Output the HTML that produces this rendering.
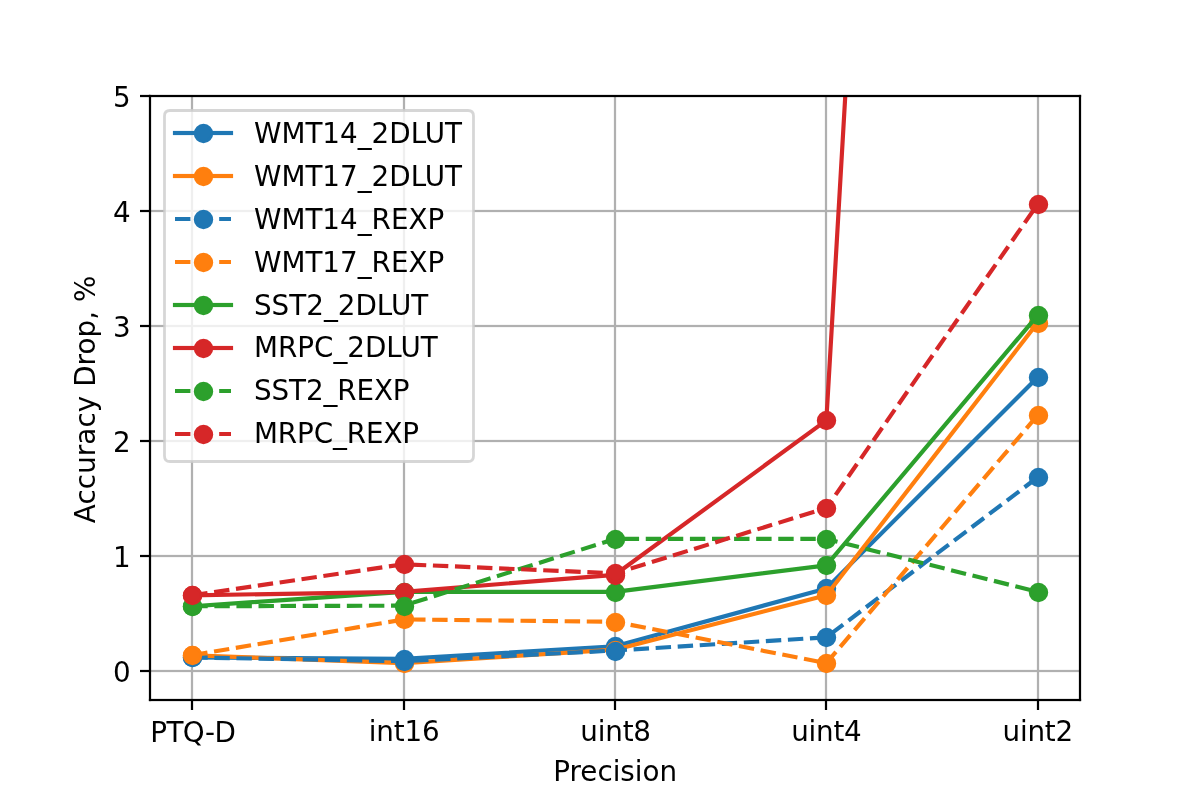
<!DOCTYPE html>
<html lang="en">
<head>
<meta charset="utf-8">
<title>Accuracy Drop vs Precision</title>
<style>
html,body{margin:0;padding:0;background:#ffffff;}
body{width:1200px;height:800px;overflow:hidden;}
svg{display:block;}
text{font-family:"DejaVu Sans", "Liberation Sans", sans-serif;font-size:27.78px;fill:#000000;}
</style>
</head>
<body>
<svg width="1200" height="800" viewBox="0 0 1200 800">
<defs><clipPath id="ax"><rect x="150" y="96" width="930" height="604"/></clipPath></defs>
<rect x="0" y="0" width="1200" height="800" fill="#ffffff"/>
<g fill="#b0b0b0">
<rect x="190.889" y="96" width="2.222" height="604"/>
<rect x="402.889" y="96" width="2.222" height="604"/>
<rect x="613.889" y="96" width="2.222" height="604"/>
<rect x="824.889" y="96" width="2.222" height="604"/>
<rect x="1036.889" y="96" width="2.222" height="604"/>
<rect x="150" y="669.889" width="930" height="2.222"/>
<rect x="150" y="554.889" width="930" height="2.222"/>
<rect x="150" y="439.889" width="930" height="2.222"/>
<rect x="150" y="324.889" width="930" height="2.222"/>
<rect x="150" y="209.889" width="930" height="2.222"/>
</g>
<g clip-path="url(#ax)" fill="none" stroke-width="4.167" stroke-linejoin="round">
<polyline points="192.27,657.43 403.64,658.90 615.00,646.27 826.36,588.40 1037.73,377.30" stroke="#1f77b4" stroke-linecap="square"/>
<g fill="#1f77b4" stroke="#1f77b4" stroke-width="2.778"><circle cx="192.5" cy="657.5" r="8.333"/><circle cx="404.5" cy="659.5" r="8.333"/><circle cx="615.5" cy="646.5" r="8.333"/><circle cx="826.5" cy="588.5" r="8.333"/><circle cx="1038.5" cy="377.5" r="8.333"/></g>
<polyline points="192.27,655.25 403.64,663.20 615.00,649.70 826.36,595.31 1037.73,322.64" stroke="#ff7f0e" stroke-linecap="square"/>
<g fill="#ff7f0e" stroke="#ff7f0e" stroke-width="2.778"><circle cx="192.5" cy="655.5" r="8.333"/><circle cx="404.5" cy="663.5" r="8.333"/><circle cx="615.5" cy="650.5" r="8.333"/><circle cx="826.5" cy="595.5" r="8.333"/><circle cx="1038.5" cy="323.5" r="8.333"/></g>
<polyline points="192.27,657.43 403.64,661.20 615.00,650.53 826.36,637.30 1037.73,477.30" stroke="#1f77b4" stroke-dasharray="15.417 6.667" stroke-linecap="butt"/>
<g fill="#1f77b4" stroke="#1f77b4" stroke-width="2.778"><circle cx="192.5" cy="657.5" r="8.333"/><circle cx="404.5" cy="661.5" r="8.333"/><circle cx="615.5" cy="651.5" r="8.333"/><circle cx="826.5" cy="637.5" r="8.333"/><circle cx="1038.5" cy="477.5" r="8.333"/></g>
<polyline points="192.27,655.25 403.64,619.47 615.00,621.77 826.36,663.18 1037.73,415.20" stroke="#ff7f0e" stroke-dasharray="15.417 6.667" stroke-linecap="butt"/>
<g fill="#ff7f0e" stroke="#ff7f0e" stroke-width="2.778"><circle cx="192.5" cy="655.5" r="8.333"/><circle cx="404.5" cy="619.5" r="8.333"/><circle cx="615.5" cy="622.5" r="8.333"/><circle cx="826.5" cy="663.5" r="8.333"/><circle cx="1038.5" cy="415.5" r="8.333"/></g>
<polyline points="192.27,606.24 403.64,591.86 615.00,591.86 826.36,565.39 1037.73,315.20" stroke="#2ca02c" stroke-linecap="square"/>
<g fill="#2ca02c" stroke="#2ca02c" stroke-width="2.778"><circle cx="192.5" cy="606.5" r="8.333"/><circle cx="404.5" cy="592.5" r="8.333"/><circle cx="615.5" cy="592.5" r="8.333"/><circle cx="826.5" cy="565.5" r="8.333"/><circle cx="1038.5" cy="315.5" r="8.333"/></g>
<polyline points="192.27,595.31 403.64,591.86 615.00,574.80 826.36,420.43 1037.73,-3205.87" stroke="#d62728" stroke-linecap="square"/>
<g fill="#d62728" stroke="#d62728" stroke-width="2.778"><circle cx="192.5" cy="595.5" r="8.333"/><circle cx="404.5" cy="592.5" r="8.333"/><circle cx="615.5" cy="575.5" r="8.333"/><circle cx="826.5" cy="420.5" r="8.333"/></g>
<polyline points="192.27,606.24 403.64,605.66 615.00,538.93 826.36,538.93 1037.73,591.86" stroke="#2ca02c" stroke-dasharray="15.417 6.667" stroke-linecap="butt"/>
<g fill="#2ca02c" stroke="#2ca02c" stroke-width="2.778"><circle cx="192.5" cy="606.5" r="8.333"/><circle cx="404.5" cy="606.5" r="8.333"/><circle cx="615.5" cy="539.5" r="8.333"/><circle cx="826.5" cy="539.5" r="8.333"/><circle cx="1038.5" cy="592.5" r="8.333"/></g>
<polyline points="192.27,595.31 403.64,564.24 615.00,573.30 826.36,508.10 1037.73,204.14" stroke="#d62728" stroke-dasharray="15.417 6.667" stroke-linecap="butt"/>
<g fill="#d62728" stroke="#d62728" stroke-width="2.778"><circle cx="192.5" cy="595.5" r="8.333"/><circle cx="404.5" cy="564.5" r="8.333"/><circle cx="615.5" cy="573.5" r="8.333"/><circle cx="826.5" cy="508.5" r="8.333"/><circle cx="1038.5" cy="204.5" r="8.333"/></g>
</g>
<g fill="#000000">
<rect x="190.889" y="700" width="2.222" height="10"/>
<rect x="402.889" y="700" width="2.222" height="10"/>
<rect x="613.889" y="700" width="2.222" height="10"/>
<rect x="824.889" y="700" width="2.222" height="10"/>
<rect x="1036.889" y="700" width="2.222" height="10"/>
<rect x="140" y="669.889" width="10" height="2.222"/>
<rect x="140" y="554.889" width="10" height="2.222"/>
<rect x="140" y="439.889" width="10" height="2.222"/>
<rect x="140" y="324.889" width="10" height="2.222"/>
<rect x="140" y="209.889" width="10" height="2.222"/>
<rect x="140" y="94.889" width="10" height="2.222"/>
<rect x="148.889" y="94.889" width="2.222" height="606.222"/>
<rect x="1078.889" y="94.889" width="2.222" height="606.222"/>
<rect x="148.889" y="94.889" width="932.222" height="2.222"/>
<rect x="148.889" y="698.889" width="932.222" height="2.222"/>
</g>
<g text-anchor="middle">
<text x="192.77" y="742.00" letter-spacing="-0.55">PTQ-D</text>
<text x="404.14" y="741.40" letter-spacing="-0.2">int16</text>
<text x="615.60" y="741.40" letter-spacing="-0.2">uint8</text>
<text x="826.36" y="741.40" letter-spacing="-0.2">uint4</text>
<text x="1037.73" y="741.40" letter-spacing="-0.2">uint2</text>
</g>
<g text-anchor="end">
<text x="130.56" y="682.20">0</text>
<text x="130.56" y="567.20">1</text>
<text x="130.56" y="452.20">2</text>
<text x="130.56" y="337.20">3</text>
<text x="130.56" y="222.20">4</text>
<text x="130.56" y="107.20">5</text>
</g>
<text x="615.2" y="780.5" text-anchor="middle">Precision</text>
<text transform="translate(94.69 399.3) rotate(-90)" text-anchor="middle" letter-spacing="0.08">Accuracy Drop, %</text>
<path d="M170.056,110.5 L467.944,110.5 Q473.5,110.5 473.5,116.056 L473.5,455.944 Q473.5,461.5 467.944,461.5 L170.056,461.5 Q164.5,461.5 164.5,455.944 L164.5,116.056 Q164.5,110.5 170.056,110.5 Z" fill="#ffffff" fill-opacity="0.8" stroke="#cccccc" stroke-opacity="0.8" stroke-width="2.778" stroke-linejoin="miter"/>
<rect x="172.917" y="130.917" width="60.166" height="4.167" fill="#1f77b4"/>
<circle cx="203.5" cy="133.50" r="8.333" fill="#1f77b4" stroke="#1f77b4" stroke-width="2.778"/>
<text x="254" y="143.00">WMT14_2DLUT</text>
<rect x="172.917" y="173.917" width="60.166" height="4.167" fill="#ff7f0e"/>
<circle cx="203.5" cy="176.50" r="8.333" fill="#ff7f0e" stroke="#ff7f0e" stroke-width="2.778"/>
<text x="254" y="185.89">WMT17_2DLUT</text>
<line x1="175" y1="219.00" x2="231" y2="219.00" stroke="#1f77b4" stroke-width="4.167" stroke-dasharray="15.417 6.667"/>
<circle cx="203.5" cy="219.50" r="8.333" fill="#1f77b4" stroke="#1f77b4" stroke-width="2.778"/>
<text x="254" y="228.78">WMT14_REXP</text>
<line x1="175" y1="262.00" x2="231" y2="262.00" stroke="#ff7f0e" stroke-width="4.167" stroke-dasharray="15.417 6.667"/>
<circle cx="203.5" cy="262.50" r="8.333" fill="#ff7f0e" stroke="#ff7f0e" stroke-width="2.778"/>
<text x="254" y="271.67">WMT17_REXP</text>
<rect x="172.917" y="302.916" width="60.166" height="4.167" fill="#2ca02c"/>
<circle cx="203.5" cy="305.50" r="8.333" fill="#2ca02c" stroke="#2ca02c" stroke-width="2.778"/>
<text x="254" y="314.56">SST2_2DLUT</text>
<rect x="172.917" y="345.916" width="60.166" height="4.167" fill="#d62728"/>
<circle cx="203.5" cy="348.50" r="8.333" fill="#d62728" stroke="#d62728" stroke-width="2.778"/>
<text x="254" y="357.45">MRPC_2DLUT</text>
<line x1="175" y1="391.00" x2="231" y2="391.00" stroke="#2ca02c" stroke-width="4.167" stroke-dasharray="15.417 6.667"/>
<circle cx="203.5" cy="391.50" r="8.333" fill="#2ca02c" stroke="#2ca02c" stroke-width="2.778"/>
<text x="254" y="400.33" letter-spacing="-0.1">SST2_REXP</text>
<line x1="175" y1="434.00" x2="231" y2="434.00" stroke="#d62728" stroke-width="4.167" stroke-dasharray="15.417 6.667"/>
<circle cx="203.5" cy="434.50" r="8.333" fill="#d62728" stroke="#d62728" stroke-width="2.778"/>
<text x="254" y="443.22" letter-spacing="-0.1">MRPC_REXP</text>
</svg>
</body>
</html>
